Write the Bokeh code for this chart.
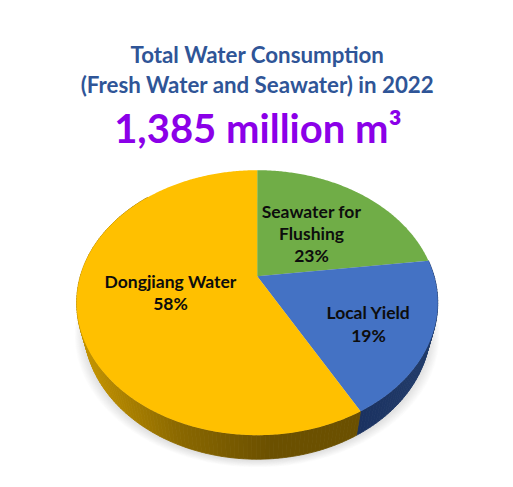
import numpy as np
from bokeh.plotting import figure
from bokeh.models import Range1d
from bokeh.core.properties import value
from bokeh.embed import file_html
from bokeh.resources import INLINE

categories = ["Seawater for Flushing", "Local Yield", "Dongjiang Water"]
shares = [23, 19, 58]
colours = ["#70AD47", "#4472C4", "#FFC000"]
title_lines = ["Total Water Consumption", "(Fresh Water and Seawater) in 2022"]
headline = "1,385 million m³"
labels = [["Seawater for", "Flushing", "23%"], ["Local Yield", "19%"], ["Dongjiang Water", "58%"]]

W, H = 505, 479
CX, CY, A, B, K, DEPTH, SHRINK = 256.7, 275.7, 176.9, 127.2, 0.2, 24.0, 0.96


def project(theta):
    u, v = np.sin(theta), np.cos(theta)
    d = 1 + K * v
    return CX + A * u / d, CY - B * v / d


def lower(theta, shrink=SHRINK, depth=DEPTH):
    x, y = project(theta)
    return CX + (x - CX) * shrink, y + depth


def arc(t0, t1, step=0.01):
    n = max(2, int(abs(t1 - t0) / step))
    return np.linspace(t0, t1, n)


def mix(c0, c1, f):
    a = [int(c0[i:i + 2], 16) for i in (1, 3, 5)]
    b = [int(c1[i:i + 2], 16) for i in (1, 3, 5)]
    return "#%02x%02x%02x" % tuple(int(round(x + (y - x) * f)) for x, y in zip(a, b))


def wall_colour(idx, x):
    if idx == 1:
        return mix("#1A3160", "#223C6A", (x - 355) / 80)
    f = np.clip((x - 85) / (270 - 85), 0, 1)
    if f < 0.5:
        return mix("#C29200", "#8A6800", f / 0.5)
    return mix("#8A6800", "#6B5000", (f - 0.5) / 0.5)


p = figure(width=W, height=H, output_backend="svg", toolbar_location=None,
           x_range=Range1d(0, W), y_range=Range1d(H, 0),
           min_border=0, outline_line_color=None, background_fill_color="white")
p.axis.visible = False
p.grid.visible = False

# soft shadow under the disc
t = arc(0, 2 * np.pi)
for i in range(10):
    grow = 10 - i
    x, y = lower(t, SHRINK + grow * 0.005, DEPTH + 1 + grow * 0.7)
    p.patch(x, y, fill_color="#80808A", fill_alpha=0.028, line_color=None)

ends = np.cumsum(shares) / sum(shares) * 2 * np.pi
starts = np.concatenate([[0], ends[:-1]])

# side wall
for idx in (1, 2):
    lo = max(starts[idx], np.pi / 4)
    hi = min(ends[idx], 7 * np.pi / 4)
    ts = arc(lo, hi, 0.02)
    for a0, a1 in zip(ts[:-1], ts[1:]):
        x0, y0 = project(a0)
        x1, y1 = project(a1)
        bx0, by0 = lower(a0)
        bx1, by1 = lower(a1)
        col = wall_colour(idx, (x0 + x1) / 2)
        p.patch([x0, x1, bx1, bx0], [y0, y1, by1, by0], fill_color=col,
                line_color=col, line_width=0.8)

# top faces
for s, e, c in zip(starts, ends, colours):
    ts = arc(s, e)
    x, y = project(ts)
    p.patch(np.r_[CX, x], np.r_[CY, y], fill_color=c, line_color=None)

# texts
FONT = value("Lato")
for line, ypos in zip(title_lines, [54, 84]):
    p.text([257], [ypos], text=[line], text_font=FONT, text_font_style="bold", text_font_size="22.3px",
           text_color="#2F5597", text_align="center", text_baseline="middle")
p.text([257.5], [127], text=[headline], text_font=FONT, text_font_style="bold", text_font_size="40px",
       text_color="#8B00E8", text_align="center", text_baseline="middle")

label_centres = [(311, 233), (368, 323.5), (170, 292)]
for lines, (lx, ly) in zip(labels, label_centres):
    n = len(lines)
    for i, s in enumerate(lines):
        p.text([lx], [ly + (i - (n - 1) / 2) * 22.3], text=[s], text_font=FONT, text_font_style="bold",
               text_font_size="17.5px", text_color="#0D0D0D", text_align="center", text_baseline="middle")

open("out.html", "w").write(file_html(p, INLINE))
